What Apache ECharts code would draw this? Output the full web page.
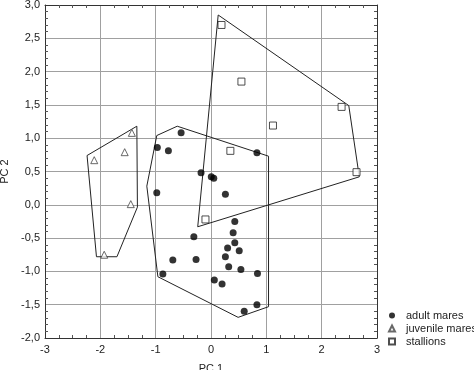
<!DOCTYPE html>
<html>
<head>
<meta charset="utf-8">
<script src="https://cdn.jsdelivr.net/npm/echarts@6/dist/echarts.min.js"></script>
<style>
html,body{margin:0;padding:0;background:#fff;}
#chart{width:474px;height:370px;}
</style>
</head>
<body>
<div id="chart"></div>
<script>
// ---- data (PC1, PC2) ----
const seriesNames = ['adult mares', 'juvenile mares', 'stallions'];

const adultMares = [
  [-0.54, 1.08], [-0.97, 0.86], [-0.77, 0.81], [0.83, 0.78], [-0.18, 0.48],
  [0.005, 0.42], [0.05, 0.40], [-0.98, 0.18], [0.26, 0.16], [0.43, -0.25],
  [0.40, -0.42], [-0.31, -0.48], [0.43, -0.57], [0.30, -0.65], [0.51, -0.69],
  [-0.69, -0.83], [-0.27, -0.82], [0.26, -0.78], [0.32, -0.93], [0.54, -0.97],
  [0.84, -1.03], [-0.87, -1.04], [0.06, -1.13], [0.20, -1.19], [0.83, -1.50],
  [0.60, -1.60]
];

const juvenileMares = [
  [-1.43, 1.08], [-1.56, 0.79], [-2.11, 0.67], [-1.45, 0.01], [-1.93, -0.75]
];

const stallions = [
  [0.19, 2.70], [0.55, 1.85], [2.36, 1.47], [1.12, 1.19], [0.35, 0.81],
  [2.63, 0.49], [-0.10, -0.22]
];

// hull outlines (closed polygons)
const adultHull = [
  [-0.61, 1.18], [-0.98, 1.04], [-1.16, 0.28], [-0.96, -1.08], [0.49, -1.69],
  [1.04, -1.53], [1.04, 0.73], [-0.61, 1.18]
];
const juvenileHull = [
  [-2.24, 0.74], [-1.34, 1.18], [-1.33, -0.035], [-1.70, -0.78], [-2.07, -0.78],
  [-2.24, 0.74]
];
const stallionHull = [
  [0.13, 2.85], [2.49, 1.49], [2.68, 0.42], [-0.24, -0.33], [0.13, 2.85]
];

// axis ranges / ticks
const xMin = -3, xMax = 3, xStep = 1;
const yMin = -2, yMax = 3, yStep = 0.5;

const font = '"Liberation Sans", Arial, sans-serif';
const chart = echarts.init(document.getElementById('chart'), null, {renderer: 'canvas'});

function frameAxis(pos, isX) {
  return {
    type: 'value', position: pos,
    min: isX ? xMin : yMin, max: isX ? xMax : yMax, interval: isX ? xStep : yStep,
    axisLine: {show: true, onZero: false, lineStyle: {color: '#333', width: 1}},
    axisTick: {show: false, inside: true},
    minorTick: {show: true, splitNumber: isX ? 4 : 5, length: 3, lineStyle: {color: '#555', width: 1}},
    axisLabel: {show: false},
    splitLine: {show: false}
  };
}

const hullLine = (data) => ({
  type: 'line', data: data, symbol: 'none', silent: true, z: 1,
  xAxisIndex: 0, yAxisIndex: 0,
  lineStyle: {color: '#222', width: 1}, animation: false
});

const option = {
  animation: false,
  backgroundColor: '#fff',
  textStyle: {fontFamily: font},
  grid: {left: 45, right: 97, top: 5, bottom: 32, containLabel: false, outerBoundsMode: 'none'},
  legend: {
    data: seriesNames,
    orient: 'vertical', left: 388, top: 310,
    itemWidth: 6, itemHeight: 6, itemGap: 2,
    textStyle: {fontFamily: font, fontSize: 11, color: '#222', padding: [0, 0, 0, 6]},
    padding: 0
  },
  xAxis: [
    {
      type: 'value', min: xMin, max: xMax, interval: xStep, position: 'bottom',
      name: 'PC 1', nameLocation: 'middle', nameGap: 25,
      nameTextStyle: {fontFamily: font, fontSize: 11, color: '#222'},
      axisLine: {show: true, onZero: false, lineStyle: {color: '#333', width: 1}},
      axisTick: {show: false, inside: true},
      minorTick: {show: true, splitNumber: 4, length: 3, lineStyle: {color: '#555', width: 1}},
      axisLabel: {fontFamily: font, fontSize: 11, color: '#222', margin: 6},
      splitLine: {show: true, lineStyle: {color: '#a0a0a0', width: 1}}
    },
    frameAxis('top', true)
  ],
  yAxis: [
    {
      type: 'value', min: yMin, max: yMax, interval: yStep, position: 'left',
      name: 'PC 2', nameLocation: 'middle', nameGap: 33, nameRotate: 90,
      nameTextStyle: {fontFamily: font, fontSize: 11, color: '#222'},
      axisLine: {show: true, onZero: false, lineStyle: {color: '#333', width: 1}},
      axisTick: {show: false, inside: true},
      minorTick: {show: true, splitNumber: 5, length: 3, lineStyle: {color: '#555', width: 1}},
      axisLabel: {fontFamily: font, fontSize: 11, color: '#222', margin: 5,
        formatter: v => v.toFixed(1).replace('.', ',')},
      splitLine: {show: true, lineStyle: {color: '#a0a0a0', width: 1}}
    },
    frameAxis('right', false)
  ],
  series: [
    hullLine(adultHull),
    hullLine(juvenileHull),
    hullLine(stallionHull),
    {
      name: seriesNames[0], type: 'scatter', data: adultMares, z: 3,
      symbol: 'circle', symbolSize: 7,
      itemStyle: {color: '#000', borderWidth: 0}
    },
    {
      name: seriesNames[1], type: 'scatter', data: juvenileMares, z: 3,
      symbol: 'triangle', symbolSize: 7,
      itemStyle: {color: '#fff', borderColor: '#444', borderWidth: 1}
    },
    {
      name: seriesNames[2], type: 'scatter', data: stallions, z: 3,
      symbol: 'rect', symbolSize: 7,
      itemStyle: {color: '#fff', borderColor: '#222', borderWidth: 1}
    }
  ]
};
chart.setOption(option);
</script>
</body>
</html>
